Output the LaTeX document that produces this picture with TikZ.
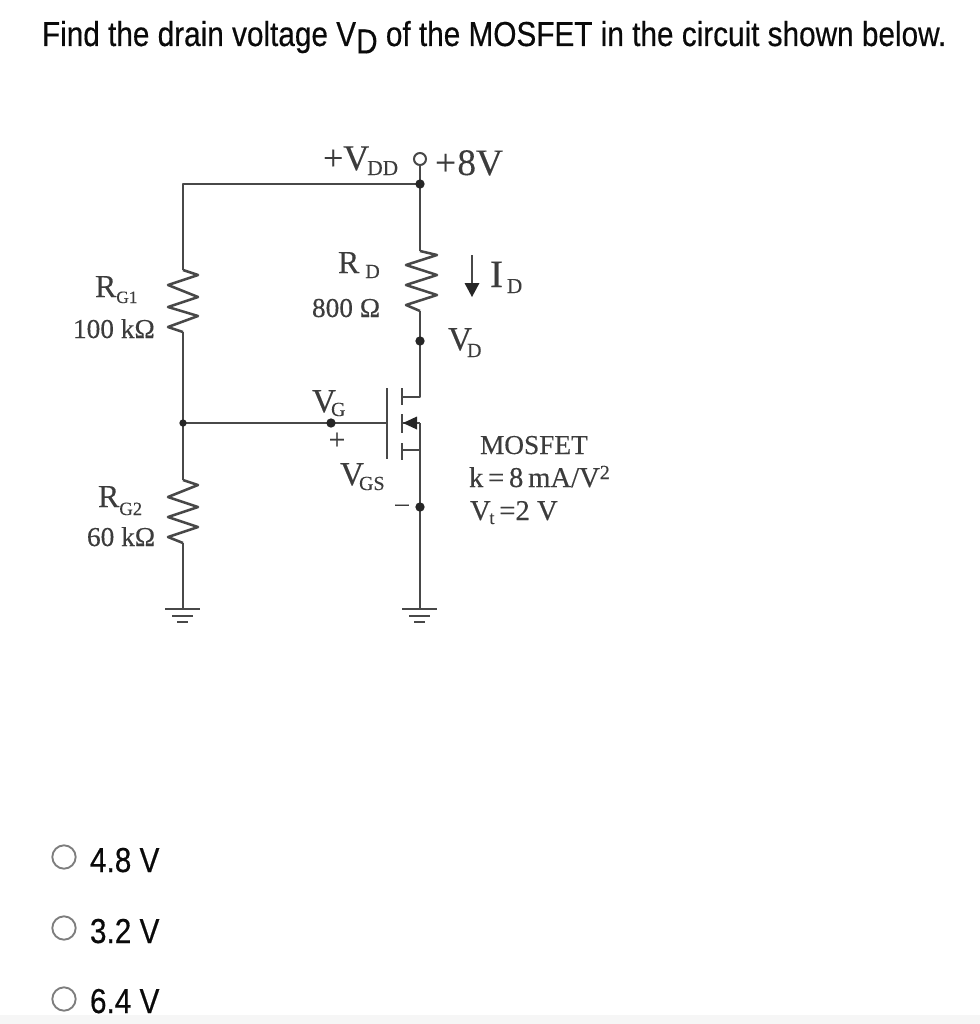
\documentclass[tikz,border=0pt]{standalone}
\usepackage{fontspec}
\setmainfont{Liberation Serif}
\newfontfamily\cf[FakeBold=0.25]{Liberation Serif}
\newfontfamily\qf[FakeStretch=0.858,FakeBold=0.4]{Liberation Sans}
\newcommand{\sz}[1]{\fontsize{#1}{#1}\selectfont}
\newcommand{\lowsub}[4]{\kern#1pt\raisebox{-#2pt}{\sz{#3}#4}}
\definecolor{wirec}{RGB}{72,72,72}
\definecolor{txtc}{RGB}{60,60,60}
\definecolor{qc}{RGB}{10,10,10}
\definecolor{optc}{RGB}{125,125,125}
\definecolor{bandc}{RGB}{246,246,246}
\tikzset{
  wire/.style={draw=wirec,line width=2.1pt,line join=round},
  thin wire/.style={draw=wirec,line width=1.9pt,line join=round},
  dotnode/.style={circle,fill=black!85,inner sep=0pt,minimum size=7pt},
  lbl/.style={anchor=base west,inner sep=0pt,outer sep=0pt,text=txtc,font=\cf\sz{#1}},
  qtext/.style={anchor=base west,inner sep=0pt,outer sep=0pt,text=qc,font=\qf\sz{#1}},
  optcircle/.style={circle,draw=optc,line width=1.4pt,fill=white,minimum size=17.5pt,inner sep=0pt},
  termnode/.style={circle,draw=wirec,line width=1.5pt,fill=white,minimum size=9pt,inner sep=0pt},
}
\begin{document}
\begin{tikzpicture}[x=0.75pt,y=-0.75pt]
\useasboundingbox (0,0) rectangle (980,1024);
\fill[white] (0,0) rectangle (980,1024);
\fill[bandc] (0,1015) rectangle (980,1024);
% title
\node[qtext=26] (title) at (42,46) {Find the drain voltage V\raisebox{-5.5pt}{D} of the MOSFET in the circuit shown below.};
% junctions
\coordinate (topl) at (183,184);
\coordinate (topj) at (420,184);
\coordinate (gatej) at (183,423);
\coordinate (r1a) at (183,270);
\coordinate (r1b) at (183,332);
\coordinate (r2a) at (183,480);
\coordinate (r2b) at (183,543);
\coordinate (rda) at (420,251);
\coordinate (rdb) at (420,311);
\coordinate (g1) at (183,609);
\coordinate (g2) at (420,609);
\coordinate (plate) at (387,423);
\coordinate (dr) at (402,397);
\coordinate (so) at (402,450);
\coordinate (bo) at (402,423);
\coordinate (drw) at (420,397);
\coordinate (sow) at (420,450);
\coordinate (bow) at (420,423);
\coordinate (iat) at (472,255);
\coordinate (iab) at (472,297);
% wires
\draw[wire] (r1a) -- (topl) -- (topj) -- (rda);
\draw[wire] (r1b) -- (gatej) -- (r2a);
\draw[wire] (gatej) -- (plate);
\draw[wire] (r2b) -- (g1);
\draw[wire] (rdb) -- (drw) -- (dr);
\draw[wire] (bow) -- (g2);
\draw[wire] (sow) -- (so);
% resistors
\draw[thin wire] (r1a) -- (198,275) -- (168,285) -- (198,297) -- (168,307) -- (198,316) -- (168,327) -- (r1b);
\draw[thin wire] (r2a) -- (198,485) -- (168,497) -- (198,507) -- (168,517) -- (198,527) -- (168,537) -- (r2b);
\draw[thin wire] (rda) -- (437,255) -- (406,265) -- (437,275) -- (406,285) -- (437,295) -- (406,305) -- (rdb);
% grounds
\draw[wire] (165,609) -- (200,609) (172,616) -- (193,616) (177,622) -- (188,622);
\draw[wire] (402,609) -- (437,609) (409,616) -- (430,616) (414,622) -- (425,622);
% mosfet
\draw[wire] (387,388) -- (387,459);
\draw[wire] (402,388) -- (402,405) (402,414) -- (402,433) (402,443) -- (402,460);
\draw[wire] (bow) -- (bo);
\fill[black!85] (403,423) -- (417,416.5) -- (417,429.5) -- cycle;
% terminal and dots
\draw[thin wire] (topj) -- (420,165);
\node[termnode] (vddt) at (420,159) {};
\node[dotnode] (dtop) at (420,184) {};
\node[dotnode,minimum size=5.5pt] (dgate) at (183,423) {};
\node[dotnode] (dvd) at (420,341) {};
\node[dotnode] (dvg) at (331,423) {};
\node[dotnode] (dvs) at (420,507) {};
% current arrow
\draw[wirec,line width=1.6pt] (iat) -- (472,285);
\fill[black!85] (iab) -- (464.5,283) -- (479.5,283) -- cycle;
% circuit labels
\node[lbl=24] (rgia) at (95,297) {R\lowsub{0}{4.5}{13}{G1}};
\node[lbl=20.5] (rgic) at (73,338) {100 kΩ};
\node[lbl=24] (rgiia) at (98,507) {R\lowsub{0}{6}{14}{G2}};
\node[lbl=20.5] (rgiic) at (87,546) {60 kΩ};
\node[lbl=27] (vdda) at (323,170) {+V\lowsub{-1.5}{3.75}{16}{DD}};
\node[lbl=28] (vddc) at (435,175) {+\kern1pt 8V};
\node[lbl=24] (rda1) at (338,273) {R\lowsub{4.5}{3.75}{15}{D}};
\node[lbl=20.5] (rda3) at (312,317) {800 Ω};
\node[lbl=29] (ida) at (490,287) {I\lowsub{3}{4.5}{16}{D}};
\node[lbl=25] (vda) at (448,350) {V\lowsub{-3.75}{5.25}{15}{D}};
\node[lbl=25] (vga) at (312,412) {V\lowsub{-3.75}{3}{15}{G}};
\node[lbl=22,anchor=center] (vgp) at (337,441) {+};
\node[lbl=25] (vgsa) at (340,485) {V\lowsub{-3.75}{3.75}{15}{GS}};
\node[lbl=20,anchor=center] (vsm) at (402,508) {–};
\node[lbl=20.5] (mosa) at (480,454) {MOSFET};
\node[lbl=21.5] (mosb) at (469,487) {k\,=\,8\,mA/V\raisebox{6pt}{\sz{15}2}};
\node[lbl=21.5] (mosc) at (470,520) {V\lowsub{-1}{3}{14}{t}\,=2 V};
% options
\node[optcircle] (o1) at (64,857) {};
\node[optcircle] (o2) at (64,928) {};
\node[optcircle] (o3) at (64,999) {};
\node[qtext=26] (t1) at (90,872) {4.8 V};
\node[qtext=26] (t2) at (90,943) {3.2 V};
\node[qtext=26] (t3) at (90,1013) {6.4 V};
\end{tikzpicture}
\end{document}
